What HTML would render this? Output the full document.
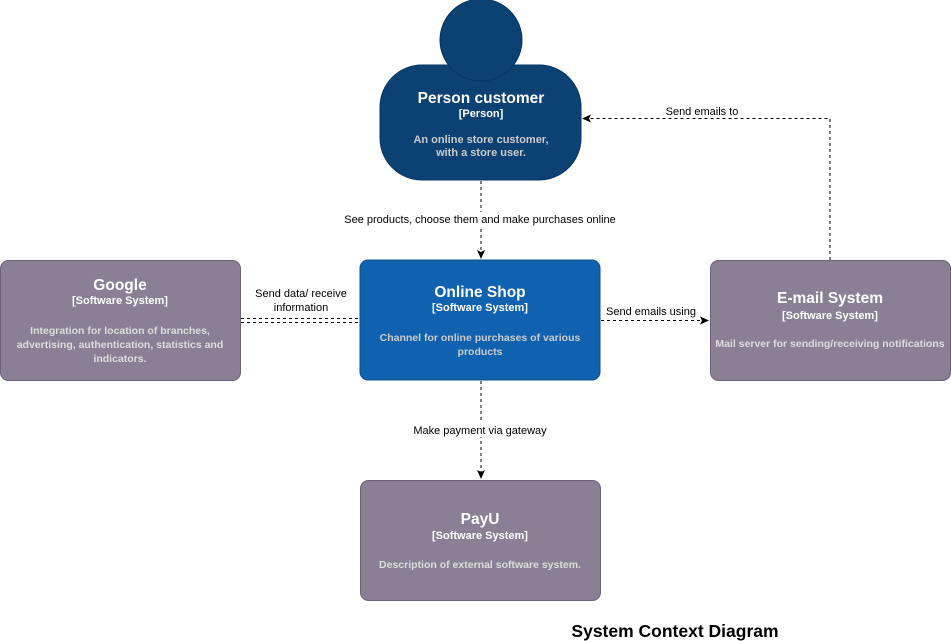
<!DOCTYPE html>
<html><head><style>
html,body{margin:0;padding:0;background:#fff;overflow:hidden;width:951px;height:641px;}
svg{display:block;}
svg text{font-family:"Liberation Sans",Arial,sans-serif;}
</style></head><body>
<svg width="951" height="641" viewBox="0 0 951 641" xmlns="http://www.w3.org/2000/svg">
<defs><marker id="a" markerWidth="10" markerHeight="10" refX="8" refY="4" orient="auto" markerUnits="userSpaceOnUse"><path d="M0,0 L9,4 L0,8 L2,4 Z" fill="#000"/></marker></defs>
<rect x="380" y="65" width="201" height="115" rx="42" fill="#0b4173" stroke="#083563"/>
<circle cx="481" cy="40" r="41" fill="#0b4173" stroke="#083563"/>
<text x="481" y="103" text-anchor="middle" fill="#fff" font-size="15.5" font-weight="bold">Person customer</text>
<text x="481" y="117" text-anchor="middle" fill="#fff" font-size="11" font-weight="bold">[Person]</text>
<text x="481" y="143" text-anchor="middle" fill="#ccc" font-size="11" font-weight="bold">An online store customer,</text>
<text x="481" y="156" text-anchor="middle" fill="#ccc" font-size="11" font-weight="bold">with a store user.</text>
<rect x="360" y="260" width="240" height="120" rx="8" fill="#1061b0" stroke="#0d4f90"/>
<text x="480" y="297" text-anchor="middle" fill="#fff" font-size="15.5" font-weight="bold">Online Shop</text>
<text x="480" y="311" text-anchor="middle" fill="#fff" font-size="11" font-weight="bold">[Software System]</text>
<text x="480" y="341" text-anchor="middle" fill="#ccc" font-size="10.5" font-weight="bold">Channel for online purchases of various</text>
<text x="480" y="355" text-anchor="middle" fill="#ccc" font-size="10.5" font-weight="bold">products</text>
<rect x="0.5" y="260.5" width="240" height="120" rx="8" fill="#8b7f96" stroke="#6d6279"/>
<text x="120" y="290" text-anchor="middle" fill="#fff" font-size="15.5" font-weight="bold">Google</text>
<text x="120" y="304" text-anchor="middle" fill="#fff" font-size="11" font-weight="bold">[Software System]</text>
<text x="120" y="334" text-anchor="middle" fill="#ddd" font-size="10.5" font-weight="bold">Integration for location of branches,</text>
<text x="120" y="348" text-anchor="middle" fill="#ddd" font-size="10.5" font-weight="bold">advertising, authentication, statistics and</text>
<text x="120" y="362" text-anchor="middle" fill="#ddd" font-size="10.5" font-weight="bold">indicators.</text>
<rect x="710.5" y="260.5" width="240" height="120" rx="8" fill="#8b7f96" stroke="#6d6279"/>
<text x="830" y="303" text-anchor="middle" fill="#fff" font-size="15.5" font-weight="bold">E-mail System</text>
<text x="830" y="319" text-anchor="middle" fill="#fff" font-size="11" font-weight="bold">[Software System]</text>
<text x="830" y="347" text-anchor="middle" fill="#ddd" font-size="10.5" font-weight="bold">Mail server for sending/receiving notifications</text>
<rect x="360.5" y="480.5" width="240" height="120" rx="8" fill="#8b7f96" stroke="#6d6279"/>
<text x="480" y="524" text-anchor="middle" fill="#fff" font-size="15.5" font-weight="bold">PayU</text>
<text x="480" y="539" text-anchor="middle" fill="#fff" font-size="11" font-weight="bold">[Software System]</text>
<text x="480" y="568" text-anchor="middle" fill="#ddd" font-size="10.5" font-weight="bold">Description of external software system.</text>
<g stroke="#000" stroke-dasharray="3 3" fill="none">
<path d="M481 181 V258" marker-end="url(#a)"/>
<path d="M481 381 V478" marker-end="url(#a)"/>
<path d="M601 320.5 H708" marker-end="url(#a)"/>
<path d="M830 260 V118.5 H583" marker-end="url(#a)"/>
<path d="M241 318.5 H360"/>
<path d="M241 322.5 H360"/>
</g>
<g font-size="11" fill="#000" text-anchor="middle">
<rect x="340" y="212" width="280" height="14" fill="#fff"/>
<text x="480" y="223">See products, choose them and make purchases online</text>
<rect x="410" y="423" width="140" height="14" fill="#fff"/>
<text x="480" y="434">Make payment via gateway</text>
<text x="651" y="315">Send emails using</text>
<text x="702" y="115">Send emails to</text>
<text x="301" y="297">Send data/ receive</text>
<text x="301" y="311">information</text>
</g>
<text x="675" y="637" text-anchor="middle" font-size="17.5" font-weight="bold" fill="#000">System Context Diagram</text>
</svg>
</body></html>
